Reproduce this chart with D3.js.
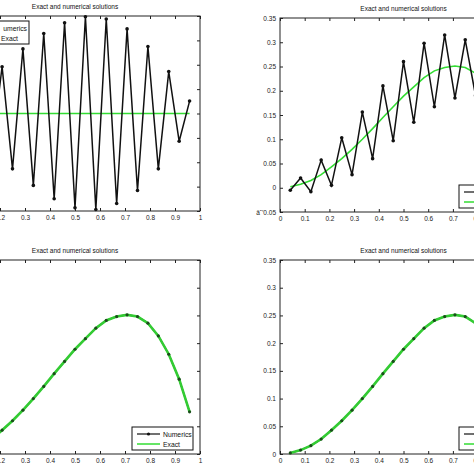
<!DOCTYPE html><html><head><script src="https://d3js.org/d3.v7.min.js"></script>
<style>body{margin:0;background:#fff}svg{display:block}text{font-family:Arial,"Liberation Sans",sans-serif}</style></head><body>
<script>
const xTicks=[0,0.1,0.2,0.3,0.4,0.5,0.6,0.7,0.8,0.9,1];
const yTicks=[-0.05,0,0.05,0.1,0.15,0.2,0.25,0.3,0.35];
const yTicksOsc=[-4,-3,-2,-1,0,1,2,3,4];
const nodeIdx=d3.range(1,24);
const oscNumerical=[0.5,-0.9,1.2,-1.6,1.92,-2.27,2.65,-2.95,3.28,-3.5,3.72,-3.87,3.97,-3.94,3.88,-3.69,3.47,-3.16,2.75,-2.27,1.72,-1.14,0.51];
const oscExact=nodeIdx.map(()=>0);
const exactVals=[0.002,0.007,0.015,0.027,0.043,0.06,0.079,0.1,0.122,0.145,0.167,0.189,0.208,0.227,0.241,0.248,0.251,0.248,0.236,0.213,0.18,0.135,0.076];
const trNumerical=[-0.005,0.02,-0.008,0.057,0.005,0.103,0.027,0.156,0.06,0.21,0.097,0.26,0.135,0.298,0.167,0.315,0.185,0.305,0.19,0.27,0.14,0.2,0.05];
const title="Exact and numerical solutions";
const svg=d3.select("body").append("svg").attr("width",474).attr("height",474);
function panel(o){
  const x=d3.scaleLinear().domain([0,1]).range([o.x0,o.x1]);
  const y=d3.scaleLinear().domain(o.yd).range([o.y1,o.y0]);
  const g=svg.append("g");
  const clipId="c"+o.id;
  g.append("clipPath").attr("id",clipId).append("rect").attr("x",o.x0).attr("y",o.y0-6).attr("width",o.x1-o.x0).attr("height",o.y1-o.y0+12);
  g.append("g").attr("transform",`translate(0,${o.y1})`).call(d3.axisBottom(x).tickValues(o.x0<0?xTicks.slice(1):xTicks).tickSize(-3).tickPadding(4).tickFormat(d=>d===0?"0":d===1?"1":d3.format(".1f")(d)))
   .call(a=>{a.select(".domain").remove();a.selectAll("text").attr("font-size",6.5).attr("fill","#222");a.selectAll("line").attr("stroke","#222")});
  const ya=g.append("g").attr("transform",`translate(${o.x0},0)`).call(d3.axisLeft(y).tickValues(o.yt).tickSize(-3).tickPadding(4).tickFormat(o.yf))
   .call(a=>{a.select(".domain").remove();a.selectAll("text").attr("font-size",6.5).attr("fill","#222");a.selectAll("line").attr("stroke","#222")});
  if(o.x0<0) ya.selectAll("text").remove();
  g.append("g").call(d3.axisTop(x).tickValues(xTicks).tickSize(-3).tickFormat("")).attr("transform",`translate(0,${o.y0})`).call(a=>{a.select(".domain").remove();a.selectAll("line").attr("stroke","#222")});
  g.append("g").call(d3.axisRight(y).tickValues(o.yt).tickSize(-3).tickFormat("")).attr("transform",`translate(${o.x1},0)`).call(a=>{a.select(".domain").remove();a.selectAll("line").attr("stroke","#222")});
  g.append("rect").attr("x",o.x0).attr("y",o.y0).attr("width",o.x1-o.x0).attr("height",o.y1-o.y0).attr("fill","none").attr("stroke","#222").attr("stroke-width",1);
  const line=d3.line().x((d,i)=>x(nodeIdx[i]/24)).y(d=>y(d));
  const pg=g.append("g").attr("clip-path",`url(#${clipId})`);
  if(o.greenFirst){
    pg.append("path").attr("d",line(o.num)).attr("fill","none").attr("stroke","#111").attr("stroke-width",1.5);
    pg.append("path").attr("d",line(o.ex)).attr("fill","none").attr("stroke","#33cc33").attr("stroke-width",o.gw);
    pg.selectAll("circle").data(o.num).join("circle").attr("cx",(d,i)=>x(nodeIdx[i]/24)).attr("cy",d=>y(d)).attr("r",1.6).attr("fill","#1a4d1a");
  } else {
    pg.append("path").attr("d",line(o.ex)).attr("fill","none").attr("stroke","#33dd33").attr("stroke-width",o.gw);
    pg.append("path").attr("d",line(o.num)).attr("fill","none").attr("stroke","#111").attr("stroke-width",1.5);
    pg.selectAll("circle").data(o.num).join("circle").attr("cx",(d,i)=>x(nodeIdx[i]/24)).attr("cy",d=>y(d)).attr("r",1.8).attr("fill","#111");
  }
  g.append("text").attr("x",(o.x0+o.x1)/2).attr("y",o.y0-7).attr("text-anchor","middle").attr("font-size",6.5).attr("fill","#111").text(title);
  const L=o.leg;
  const lg=g.append("g");
  lg.append("rect").attr("x",L[0]).attr("y",L[1]).attr("width",61).attr("height",23).attr("fill","#fff").attr("stroke","#111").attr("stroke-width",1);
  lg.append("line").attr("x1",L[0]+5).attr("x2",L[0]+28).attr("y1",L[1]+7).attr("y2",L[1]+7).attr("stroke","#111").attr("stroke-width",1.2);
  lg.append("circle").attr("cx",L[0]+16.5).attr("cy",L[1]+7).attr("r",1.6).attr("fill","#111");
  lg.append("line").attr("x1",L[0]+5).attr("x2",L[0]+28).attr("y1",L[1]+17).attr("y2",L[1]+17).attr("stroke","#33dd33").attr("stroke-width",1.5);
  if(L[0]+31>=0 && L[0]+61<=474){
    lg.append("text").attr("x",L[0]+31).attr("y",L[1]+9.5).attr("font-size",6.8).attr("fill","#111").text("Numerics");
    lg.append("text").attr("x",L[0]+31).attr("y",L[1]+19.5).attr("font-size",6.8).attr("fill","#111").text("Exact");
  } else if(L[0]<0){
    lg.append("text").attr("x",L[0]+61-2).attr("y",L[1]+9.5).attr("text-anchor","end").attr("font-size",6.8).attr("fill","#111").text("umerics");
    lg.append("text").attr("x",1).attr("y",L[1]+19.5).attr("font-size",6.8).attr("fill","#111").text("Exact");
  }
}
const fmt=d=>d===0?"0":d3.format("")(d).replace("\u2212","-");
panel({id:1,x0:-50,x1:200,y0:16,y1:211,yd:[-4,4],yt:yTicksOsc,yf:d3.format("d"),num:oscNumerical,ex:oscExact,gw:1.5,leg:[-32,21]});
panel({id:2,x0:280,x1:527,y0:18,y1:212,yd:[-0.05,0.35],yt:yTicks,yf:fmt,num:trNumerical,ex:exactVals,gw:1.6,leg:[459,185]});
panel({id:3,x0:-50,x1:200,y0:260,y1:454,yd:[0,0.35],yt:yTicks.slice(1),yf:fmt,num:exactVals,ex:exactVals,gw:2.6,greenFirst:true,leg:[132,427]});
panel({id:4,x0:280,x1:527,y0:260,y1:454,yd:[0,0.35],yt:yTicks.slice(1),yf:fmt,num:exactVals,ex:exactVals,gw:2.6,greenFirst:true,leg:[459,427]});
</script></body></html>
